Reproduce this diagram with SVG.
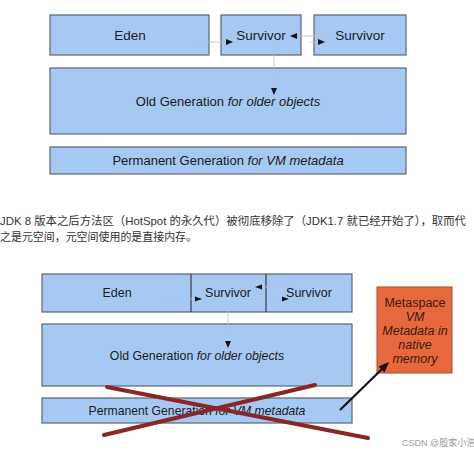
<svg xmlns="http://www.w3.org/2000/svg" width="474" height="451" viewBox="0 0 474 451">
<defs>
<style>
.box{fill:#a6c9f4;stroke:#5b6470;stroke-width:1.2}
.lbl{font-family:"Liberation Sans",Arial,sans-serif;fill:#1a1a1a;text-anchor:middle}
.conn{stroke:#b8c4d0;stroke-width:0.8;fill:none}
.head{fill:#111}
.cn{font-family:"Liberation Sans","Noto Sans CJK SC",sans-serif;fill:#333;font-size:11.5px}
.meta{font-family:"Liberation Sans",Arial,sans-serif;fill:#3a1a10;text-anchor:middle;font-size:12.5px}
.cross{stroke:#8a2626;stroke-width:4;stroke-linecap:round}
</style>
</defs>
<rect width="474" height="451" fill="#ffffff"/>

<!-- Top diagram -->
<g id="eden1"><rect class="box" x="50" y="15" width="159" height="40"/><text class="lbl" x="130" y="40" font-size="13.5">Eden</text></g>
<g id="survivor1a"><rect class="box" x="221" y="15" width="80" height="40"/><text class="lbl" x="261" y="40" font-size="13.5">Survivor</text></g>
<g id="survivor1b"><rect class="box" x="314" y="15" width="92" height="40"/><text class="lbl" x="360" y="40" font-size="13.5">Survivor</text></g>
<g id="old1"><rect class="box" x="50" y="68" width="356" height="66"/><text class="lbl" x="228" y="106" font-size="13">Old Generation <tspan font-style="italic">for older objects</tspan></text></g>
<g id="perm1"><rect class="box" x="50" y="147" width="356" height="27"/><text class="lbl" x="228" y="165" font-size="13">Permanent Generation <tspan font-style="italic">for VM metadata</tspan></text></g>

<g id="connectors1">
<line class="conn" x1="193" y1="42" x2="226" y2="42"/>
<polygon class="head" points="226,39 233,42 226,45"/>
<line class="conn" x1="297" y1="36" x2="327" y2="36"/>
<polygon class="head" points="297,33 290,36 297,39"/>
<line class="conn" x1="310" y1="42" x2="318" y2="42"/>
<polygon class="head" points="318,39 325,42 318,45"/>
<line class="conn" x1="274" y1="44" x2="274" y2="88"/>
<polygon class="head" points="271,88 274,95 277,88"/>
</g>

<!-- Text -->
<text class="cn" x="0" y="225" textLength="466" lengthAdjust="spacingAndGlyphs">JDK 8 版本之后方法区（HotSpot 的永久代）被彻底移除了（JDK1.7 就已经开始了），取而代</text>
<text class="cn" x="0" y="241" textLength="197" lengthAdjust="spacingAndGlyphs">之是元空间，元空间使用的是直接内存。</text>

<!-- Bottom diagram -->
<g id="young2">
<rect class="box" x="42" y="274" width="310" height="38"/>
<line x1="191" y1="274" x2="191" y2="312" stroke="#3a3f46" stroke-width="1.2"/>
<line x1="266" y1="274" x2="266" y2="312" stroke="#3a3f46" stroke-width="1.2"/>
</g>
<g id="eden2"><text class="lbl" x="117" y="297" font-size="12.5">Eden</text></g>
<g id="survivor2a"><text class="lbl" x="228" y="297" font-size="12.5">Survivor</text></g>
<g id="survivor2b"><text class="lbl" x="309" y="297" font-size="12.5">Survivor</text></g>
<g id="old2"><rect class="box" x="42" y="324" width="310" height="62"/><text class="lbl" x="197" y="360" font-size="12.3">Old Generation <tspan font-style="italic">for older objects</tspan></text></g>
<g id="perm2"><rect class="box" x="42" y="398" width="310" height="25"/><text class="lbl" x="197" y="415" font-size="12.2">Permanent Generation <tspan font-style="italic">for VM metadata</tspan></text></g>
<g id="metaspace"><rect x="377" y="287" width="75" height="86" fill="#e8683d" stroke="#a8482a" stroke-width="1"/>
<text class="meta" x="415" y="307">Metaspace</text>
<text class="meta" x="415" y="321" font-style="italic">VM</text>
<text class="meta" x="415" y="335" font-style="italic">Metadata in</text>
<text class="meta" x="415" y="349" font-style="italic">native</text>
<text class="meta" x="415" y="363" font-style="italic">memory</text>
</g>

<g id="connectors2">
<line class="conn" x1="167" y1="299" x2="195" y2="299"/>
<polygon class="head" points="195,296.5 202,299 195,301.5"/>
<line class="conn" x1="262" y1="287" x2="290" y2="287"/>
<polygon class="head" points="262,284.5 255,287 262,289.5"/>
<line class="conn" x1="272" y1="299" x2="282" y2="299"/>
<polygon class="head" points="282,296.5 289,299 282,301.5"/>
<line class="conn" x1="228" y1="304" x2="228" y2="341"/>
<polygon class="head" points="225,341 228,348 231,341"/>
<line x1="340" y1="410" x2="383" y2="368" stroke="#111" stroke-width="2.2"/>
<polygon class="head" points="389,362 378.5,366.5 384.5,372.5"/>
</g>

<g id="cross">
<line class="cross" x1="107" y1="387" x2="368" y2="438"/>
<line class="cross" x1="104" y1="435" x2="315" y2="385"/>
</g>

<text x="402" y="446" font-family="Liberation Sans,'Noto Sans CJK SC',sans-serif" font-size="9" fill="#9a9a9a">CSDN @殷家小浩</text>
</svg>
